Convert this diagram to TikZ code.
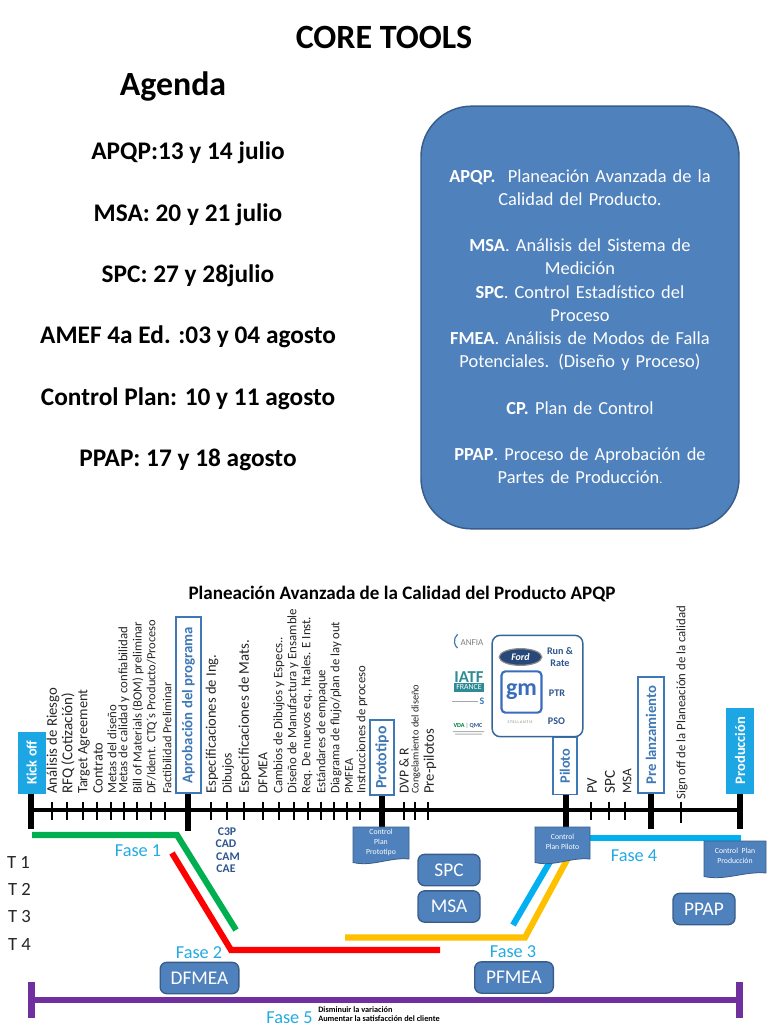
\documentclass[tikz,border=0pt]{standalone}
\usepackage{fontspec}
\usepackage{graphicx}
\setmainfont{Carlito}
\usetikzlibrary{shapes.geometric,calc}
\definecolor{boxblue}{HTML}{4F81BD}
\definecolor{boxedge}{HTML}{385D8A}
\definecolor{sky}{HTML}{1CA7E4}
\definecolor{fasecol}{HTML}{22ABE2}
\definecolor{apgreen}{HTML}{00B050}
\definecolor{apred}{HTML}{FF0000}
\definecolor{apyellow}{HTML}{FFC000}
\definecolor{apblue}{HTML}{00B0F0}
\definecolor{appurple}{HTML}{7030A0}
\definecolor{navy}{HTML}{2F5590}
\definecolor{frameblue}{HTML}{3E78B5}
\definecolor{tealk}{HTML}{2E8C96}
\tikzset{
  agendaitem/.style={font=\fontsize{19}{21}\selectfont\bfseries,anchor=center},
  rotlabel/.style={rotate=90,anchor=west,inner sep=0pt,text=black!85},
  milestone/.style={rotate=90,draw=frameblue,line width=1.1pt,fill=white,text=frameblue,font=\bfseries,inner sep=0pt,align=center},
  milefill/.style={rotate=90,draw=sky,line width=1pt,fill=sky,text=white,font=\bfseries,inner sep=0pt,align=center},
  toolbox/.style={draw=boxedge,line width=1pt,fill=boxblue,rounded corners=5pt,text=white,font=\fontsize{14.5}{16}\selectfont,minimum width=46.5pt,minimum height=23.5pt,inner sep=0pt},
  faselabel/.style={text=fasecol,font=\fontsize{13.7}{15}\selectfont},
  tlabel/.style={text=black!85,font=\fontsize{14}{16}\selectfont},
  phase/.style={line width=4.6pt,line join=miter},
  majortick/.style={line width=4.6pt,black},
  minortick/.style={line width=2.2pt,black},
  docshape/.style={draw=boxedge,line width=.6pt,fill=boxblue},
  doctext/.style={text=white,font=\fontsize{5.8}{7.5}\selectfont,align=center,inner sep=0pt},
  smallblue/.style={text=navy,font=\fontsize{8.8}{9}\selectfont\bfseries,inner sep=0pt},
  toolcap/.style={text=navy,font=\fontsize{7.6}{9}\selectfont\bfseries,inner sep=0pt,align=center}
}
% text scaled to a length given in picture pixels
\newcommand{\fitlen}[2]{\resizebox{\dimexpr #1pt*3/4\relax}{!}{#2}}
% name x y length text
\newcommand{\lab}[5]{\node[rotlabel] (#1) at (#2,#3) {\fitlen{#4}{#5}};}
\newcommand{\doc}[6]{% name x1 y1 x2 y2 text
  \draw[docshape] (#2,#3) -- (#4,#3) -- (#4,#5-5) .. controls ($(#2,#5)!.65!(#4,#5)+(0,-7)$) and ($(#2,#5)!.35!(#4,#5)+(0,3)$) .. (#2,#5-1.5) -- cycle;
  \node[doctext] (#1) at ($(#2,#3)!.5!(#4,#5)+(0,-3.5)$) {#6};}
\begin{document}
\begin{tikzpicture}[x=0.75pt,y=-0.75pt]
\useasboundingbox (0,0) rectangle (768,1024);
\clip (0,0) rectangle (768,1024);
\fill[white] (0,0) rectangle (768,1024);

% ---------- top part
\node[font=\fontsize{25.5}{28}\selectfont\bfseries] (title) at (384,37) {CORE TOOLS};
\node[font=\fontsize{25.4}{28}\selectfont\bfseries] (agenda) at (173,86) {Agenda};
\node[agendaitem] (i1) at (188,153) {APQP:13 y 14 julio};
\node[agendaitem] (i2) at (188,215) {MSA: 20 y 21 julio};
\node[agendaitem] (i3) at (188,276) {SPC: 27 y 28julio};
\node[agendaitem] (i4) at (188,337) {AMEF 4a Ed. :03 y 04 agosto};
\node[agendaitem] (i5) at (188,399) {Control Plan: 10 y 11 agosto};
\node[agendaitem] (i6) at (188,460) {PPAP: 17 y 18 agosto};

\node[draw=boxedge,line width=1.1pt,fill=boxblue,rounded corners=38pt,minimum width=238.5pt,minimum height=317pt,inner sep=0pt] (defsbox) at (580,317.5) {};
\node[inner sep=0pt,text=white,font=\fontsize{13.8}{17.4}\selectfont,align=center,text width=232pt] (defs) at (580,326.5) {%
  \textbf{APQP.}\ \ Planeación Avanzada de la\\ Calidad del Producto.\\ \mbox{}\\
  \textbf{MSA}. Análisis del Sistema de\\ Medición\\
  \textbf{SPC}. Control Estadístico del\\ Proceso\\
  \textbf{FMEA}. Análisis de Modos de Falla\\ Potenciales. (Diseño y Proceso)\\ \mbox{}\\
  \textbf{CP.} Plan de Control\\ \mbox{}\\
  \textbf{PPAP}. Proceso de Aprobación de\\ Partes de Producción{\fontsize{9}{10}\selectfont.}};

% ---------- timeline
\node[font=\fontsize{14.3}{16}\selectfont\bfseries] (apqp) at (402,594) {Planeación Avanzada de la Calidad del Producto APQP};

\coordinate (axisL) at (31,810);
\coordinate (axisR) at (740,810);
\draw[line width=2.4pt,black] (axisL) -- (axisR);
\foreach \x in {52,67,83,97,111,124,137,151,165,211,227,244,263,279,294,308,321,334,347,360,404,415,428,591,609,625}
  \draw[minortick] (\x,802) -- (\x,820);
\draw[minortick] (681,802) -- (681,823);
\foreach \x/\a/\b in {31/793/829,188/793/831,382/793/827,566/793/827,651/793/829,740/793/829}
  \draw[majortick] (\x,\a) -- (\x,\b);

% rotated labels
\lab{l1}{53}{794}{106}{Análisis de Riesgo}
\lab{l2}{68}{794}{101}{RFQ (Cotización)}
\lab{l3}{84}{794}{104}{Target Agreement}
\lab{l4}{98}{794}{51}{Contrato}
\lab{l5}{112}{794}{89}{Metas del diseño}
\lab{l6}{124}{794}{167}{Metas de calidad y confiabilidad}
\lab{l7}{138}{794}{172}{Bill of Materials (BOM) preliminar}
\lab{l8}{152}{794}{174}{DF/Ident. CTQ´s Producto/Proceso}
\lab{l9}{167}{794}{112}{Factibilidad Preliminar}
\lab{l10}{212}{794}{139}{Especificaciones de Ing.}
\lab{l11}{228}{794}{41}{Dibujos}
\lab{l12}{245}{794}{154}{Especificaciones de Mats.}
\lab{l13}{263}{794}{41}{DFMEA}
\lab{l14}{279}{794}{157}{Cambios de Dibujos y Especs..}
\lab{l15}{293}{794}{185}{Diseño de Manufactura y Ensamble}
\lab{l16}{307}{794}{177}{Req. De nuevos eq., htales. E Inst.}
\lab{l17}{322}{794}{124}{Estándares de empaque}
\lab{l18}{336}{794}{172}{Diagrama de flujo/plan de lay out}
\lab{l19}{349}{794}{35}{PMFEA}
\lab{l20}{362}{794}{128}{Instrucciones de proceso}
\lab{l21}{404}{794}{46}{DVP \& R}
\lab{l22}{416}{794}{109}{Congelamiento del diseño}
\lab{l23}{430}{794}{65}{Pre-pilotos}
\lab{l24}{592}{794}{16}{PV}
\lab{l25}{610}{794}{23}{SPC}
\lab{l26}{627}{794}{25}{MSA}
\lab{l27}{682}{800}{194}{Sign off de la Planeación de la calidad}

% milestones
\node[milefill,minimum width=45.5pt,minimum height=20pt] (kick) at (31.5,762.5) {\fitlen{44}{Kick off}};
\node[milestone,minimum width=132pt,minimum height=19pt] (aprob) at (188.5,705) {\fitlen{156}{Aprobación del programa}};
\node[milestone,minimum width=56pt,minimum height=18pt] (proto) at (382,757.5) {\fitlen{62}{Prototipo}};
\node[milestone,minimum width=43pt,minimum height=18pt] (pilot) at (565,766) {\fitlen{35}{Piloto}};
\node[milestone,minimum width=87pt,minimum height=19.5pt] (prel) at (651,735) {\fitlen{99}{Pre lanzamiento}};
\node[milefill,minimum width=63.5pt,minimum height=19.5pt] (prod) at (740,750.5) {\fitlen{67}{Producción}};

% OEM box
\node[draw=frameblue!85!black,line width=1.1pt,fill=white,rounded corners=6pt,minimum width=68pt,minimum height=76pt,inner sep=0pt] (oem) at (537.5,686) {};
\node[ellipse,draw=black!45,line width=.9pt,fill=navy!85!black,minimum width=32pt,minimum height=12.5pt,inner sep=0pt,text=white,font=\fontsize{7.5}{8}\selectfont\itshape\bfseries] (ford) at (520.5,657) {Ford};
\node[draw=frameblue!90!blue,line width=1.6pt,rounded corners=3pt,minimum width=30pt,minimum height=31pt,inner sep=0pt,text=frameblue!90!blue,font=\fontsize{18}{20}\selectfont\bfseries] (gm) at (521.5,692) {gm};
\node[text=black!50,font=\fontsize{3}{4}\selectfont,inner sep=0pt] (stell) at (520,722) {S\,T\,E\,L\,L\,A\,N\,T\,I\,S};
\node[toolcap] (runrate) at (560,657) {Run \&\\[-.5pt] Rate};
\node[toolcap] (ptr) at (557,693) {PTR};
\node[toolcap] (pso) at (556.5,721) {PSO};

% accreditation logos
\draw[frameblue,line width=.9pt] (457.6,634.3) arc (230:130:9);
\node[text=black!50,font=\fontsize{6.8}{8}\selectfont,inner sep=0pt] (anfia) at (472,643) {ANFIA};
\node[text=tealk,font=\fontsize{12.5}{13}\selectfont\bfseries,inner sep=0pt,anchor=base,text depth=0pt] (iatf) at (469,682) {IATF};
\node[fill=tealk,text=white,font=\fontsize{5.8}{6}\selectfont,inner sep=0pt,minimum width=22.5pt,minimum height=6.2pt] (fr) at (469,687.5) {FRANCE};
\fill[black!35] (452,700.5) rectangle (478,702);
\node[text=frameblue,font=\fontsize{7.5}{8}\selectfont\bfseries,inner sep=0pt] (sfr) at (482,701.5) {S};
\node[font=\fontsize{4.6}{6}\selectfont\bfseries,inner sep=0pt] (vda) at (468,726) {\textcolor{apgreen!70!black}{VDA}\,\textcolor{black!40}{|}\,\textcolor{navy}{QMC}};
\fill[black!30] (453,731) rectangle (484,732.2) (455,733.5) rectangle (482,734.7);

% phase lines
\coordinate (g1) at (32,835); \coordinate (g2) at (177,835); \coordinate (g3) at (236,930);
\coordinate (r1) at (172,853); \coordinate (r2) at (231,950); \coordinate (r3) at (440,950);
\coordinate (y1) at (345,937.5); \coordinate (y2) at (525,937.5); \coordinate (y3) at (568,858);
\coordinate (b1) at (513,925); \coordinate (b2) at (551,860);
\coordinate (c1) at (585,838); \coordinate (c2) at (741,838);
\coordinate (p1) at (34,1000); \coordinate (p2) at (738,1000);
\draw[phase,apyellow] (y1) -- (y2) -- (y3);
\draw[phase,apred] (r1) -- (r2) -- (r3);
\draw[phase,apgreen] (g1) -- (g2) -- (g3);
\draw[phase,apblue] (b1) -- (b2);
\draw[phase,apblue] (c1) -- (c2);
\draw[phase,appurple] (p1) -- (p2);
\draw[phase,appurple] (31.5,982) -- (31.5,1018);
\draw[phase,appurple] (739.5,982) -- (739.5,1018);

% control plan documents
\doc{cpa}{353}{827}{409}{864}{Control\\ Plan\\ Prototipo}
\doc{cpb}{535}{827}{590}{864}{Control\\ Plan Piloto}
\doc{cpc}{704}{841}{766}{878}{Control\ \ Plan\\ Producción}

% tool boxes
\node[toolbox] (spc) at (449,870) {SPC};
\node[toolbox] (msa) at (449,906.5) {MSA};
\node[toolbox] (ppap) at (704,909) {PPAP};
\node[toolbox,minimum width=59pt] (dfmea) at (199.5,978) {DFMEA};
\node[toolbox,minimum width=59pt] (pfmea) at (514,977.5) {PFMEA};

% captions
\node[faselabel] (f1) at (138,851) {Fase 1};
\node[faselabel] (f2) at (199,953) {Fase 2};
\node[faselabel] (f3) at (513,952) {Fase 3};
\node[faselabel] (f4) at (634,856) {Fase 4};
\node[faselabel,anchor=base,inner sep=0pt,text depth=0pt] (f5) at (289.5,1023) {Fase 5};
\node[font=\fontsize{6.2}{6.6}\selectfont\bfseries,anchor=north west,align=left,inner sep=0pt] (goal) at (318,1006.5) {Disminuir la variación\\ Aumentar la satisfacción del cliente};
\node[smallblue] (c3p) at (227,832) {C3P};
\node[smallblue] (cad) at (226,843.5) {CAD};
\node[smallblue] (cam) at (228,856.5) {CAM};
\node[smallblue] (cae) at (226,868.5) {CAE};
\node[tlabel] (t1) at (18.5,862) {T 1};
\node[tlabel] (t2) at (19.5,889.5) {T 2};
\node[tlabel] (t3) at (19.5,916.5) {T 3};
\node[tlabel] (t4) at (19.5,944) {T 4};
\end{tikzpicture}
\end{document}
